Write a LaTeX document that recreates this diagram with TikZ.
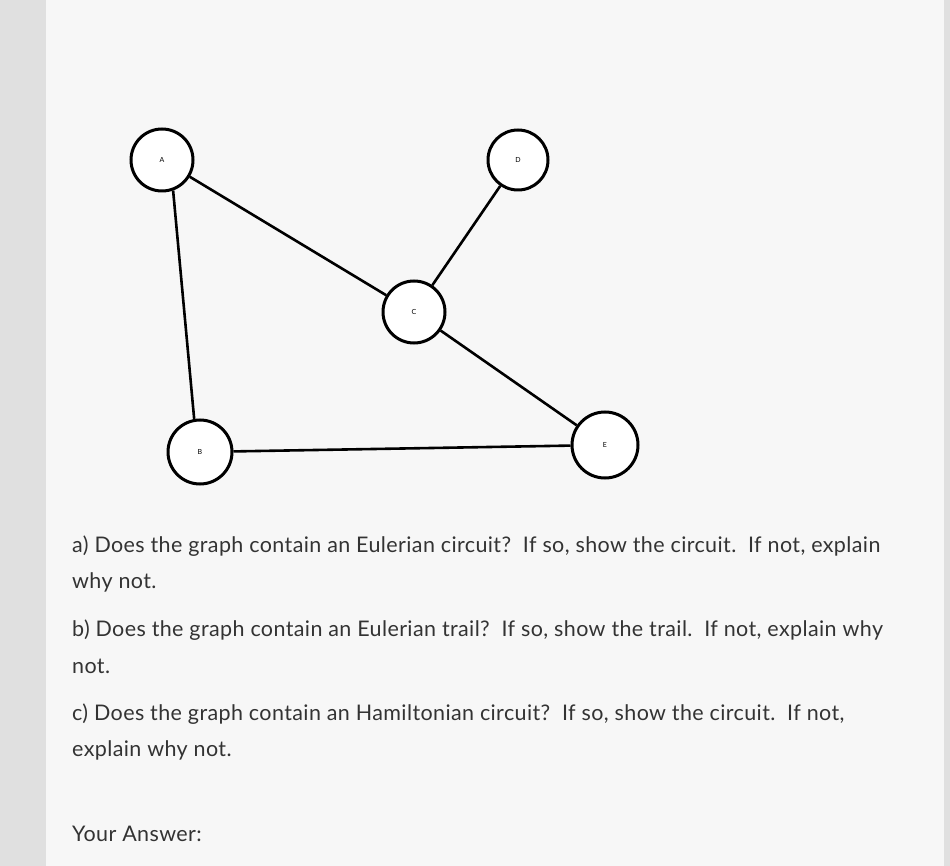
\documentclass[tikz,border=0pt]{standalone}
\usepackage{fontspec}
\setmainfont{Lato}[LetterSpace=1.8]
\begin{document}
\begin{tikzpicture}[x=1pt,y=-1pt,
  vert/.style={circle,draw=black,line width=3pt,fill=white,minimum size=62pt,inner sep=0pt,font=\fontsize{7}{8}\selectfont},
  edge/.style={line width=2.6pt,black},
  txt/.style={anchor=west,inner sep=0pt,font=\fontsize{21.5}{24}\selectfont,text=black!80}]
\useasboundingbox (0,0) rectangle (950,866);
\fill[black!12] (0,0) rectangle (950,866);
\fill[white!97!black] (46,0) rectangle (944,866);
\node[vert] (A) at (162,160) {A};
\node[vert,minimum size=60pt] (D) at (518,160) {D};
\node[vert] (C) at (414,312) {C};
\node[vert,minimum size=64pt] (B) at (200,452) {B};
\node[vert,minimum size=66pt] (E) at (605,445) {E};
\draw[edge] (A.-70) -- (B.100);
\draw[edge] (A) -- (C);
\draw[edge] (D) -- (C);
\draw[edge] (C) -- (E);
\draw[edge] (B) -- (E);
\node[txt] (t1) at (72,546) {a) Does the graph contain an Eulerian circuit?\ \ If so, show the circuit.\ \ If not, explain};
\node[txt] (t2) at (72,582) {why not.};
\node[txt] (t3) at (72,630) {b) Does the graph contain an Eulerian trail?\ \ If so, show the trail.\ \ If not, explain why};
\node[txt] (t4) at (72,666) {not.};
\node[txt] (t5) at (72,714) {c) Does the graph contain an Hamiltonian circuit?\ \ If so, show the circuit.\ \ If not,};
\node[txt] (t6) at (72,750) {explain why not.};
\node[txt] (t7) at (72,834) {Your Answer:};
\end{tikzpicture}
\end{document}
